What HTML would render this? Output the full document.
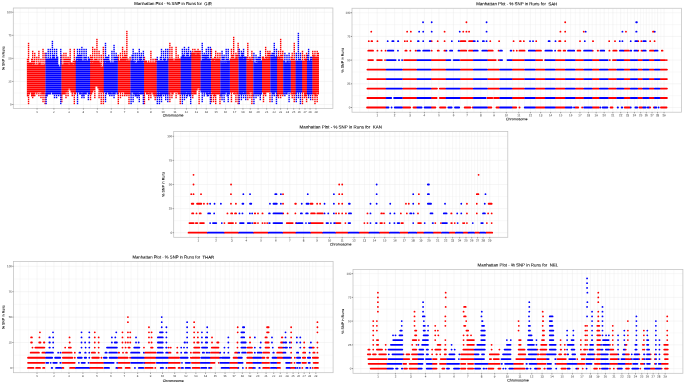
<!DOCTYPE html>
<html><head><meta charset="utf-8"><title>Manhattan Plots</title>
<style>html,body{margin:0;padding:0;background:#fff}svg{display:block}text{font-family:"Liberation Sans",sans-serif}</style></head><body>
<svg width="685" height="385" viewBox="0 0 685 385">
<rect width="685" height="385" fill="#fff"/>
<g id="panel-GIR">
<rect x="13.3" y="8" width="319.6" height="100.4" fill="#fff"/>
<path d="M13.3 92.97H332.9M13.3 69.91H332.9M13.3 46.84H332.9M13.3 23.78H332.9M45.47 8V108.4M61.47 8V108.4M76.22 8V108.4M90.4 8V108.4M104.35 8V108.4M117.97 8V108.4M131.17 8V108.4M144.24 8V108.4M156.89 8V108.4M168.99 8V108.4M180.72 8V108.4M191.42 8V108.4M201.31 8V108.4M211.19 8V108.4M220.86 8V108.4M230.14 8V108.4M238.81 8V108.4M246.61 8V108.4M254.19 8V108.4M262.36 8V108.4M270.41 8V108.4M277.39 8V108.4M284.01 8V108.4M290.56 8V108.4M296.51 8V108.4M302.16 8V108.4M307.53 8V108.4M313.03 8V108.4M28.62 8V108.4M20.2 8V108.4M324.41 8V108.4" stroke="#eeeeee" stroke-width="0.35" fill="none"/>
<path d="M13.3 104.5H332.9M13.3 81.44H332.9M13.3 58.38H332.9M13.3 35.31H332.9M13.3 12.25H332.9M37.05 8V108.4M53.9 8V108.4M69.05 8V108.4M83.4 8V108.4M97.4 8V108.4M111.3 8V108.4M124.64 8V108.4M137.69 8V108.4M150.79 8V108.4M162.99 8V108.4M174.99 8V108.4M186.44 8V108.4M196.39 8V108.4M206.24 8V108.4M216.14 8V108.4M225.59 8V108.4M234.69 8V108.4M242.94 8V108.4M250.29 8V108.4M258.09 8V108.4M266.64 8V108.4M274.19 8V108.4M280.59 8V108.4M287.43 8V108.4M293.68 8V108.4M299.33 8V108.4M304.98 8V108.4M310.08 8V108.4M315.98 8V108.4" stroke="#e8e8e8" stroke-width="0.4" fill="none"/>
<path d="M27.52 96.5V62.5M28.55 94.5V62.5M29.58 94.5V62.5M30.62 92.5V62.5M31.65 96.5V62.5M32.68 96.5V64.5M33.72 96.5V62.5M34.75 94.5V64.5M35.78 92.5V64.5M36.82 94.5V64.5M37.85 92.5V64.5M38.88 92.5V62.5M39.92 92.5V62.5M40.95 92.5V64.5M41.98 94.5V64.5M43.02 94.5V64.5M44.05 94.5V64.5M45.08 92.5V62.5M61.82 96.5V62.5M62.86 94.5V64.5M63.9 94.5V62.5M64.95 94.5V62.5M65.99 92.5V62.5M67.03 92.5V62.5M68.08 90.5V62.5M69.12 88.5V64.5M70.16 90.5V60.5M71.2 92.5V62.5M72.25 94.5V62.5M73.29 92.5V64.5M74.33 94.5V62.5M75.38 94.5V60.5M90.53 94.5V62.5M91.6 94.5V60.5M92.67 92.5V62.5M93.74 90.5V60.5M94.81 90.5V60.5M95.88 86.5V60.5M96.95 86.5V60.5M98.02 88.5V60.5M99.08 90.5V60.5M100.15 92.5V62.5M101.22 92.5V66.5M102.29 92.5V66.5M103.36 94.5V62.5M118.33 94.5V58.5M119.39 92.5V60.5M120.46 94.5V58.5M121.53 92.5V58.5M122.59 92.5V58.5M123.66 92.5V58.5M124.73 94.5V58.5M125.79 94.5V58.5M126.86 94.5V60.5M127.93 94.5V58.5M128.99 94.5V60.5M130.06 94.5V58.5M144.43 96.5V60.5M145.51 92.5V60.5M146.58 94.5V60.5M147.66 94.5V62.5M148.73 92.5V60.5M149.81 94.5V62.5M150.88 94.5V60.5M151.96 92.5V62.5M153.03 94.5V60.5M154.11 96.5V62.5M155.18 94.5V60.5M156.25 96.5V62.5M168.81 94.5V58.5M169.85 96.5V58.5M170.9 92.5V58.5M171.94 94.5V58.5M172.98 94.5V58.5M174.02 92.5V60.5M175.06 92.5V58.5M176.1 92.5V58.5M177.15 92.5V58.5M178.19 94.5V58.5M179.23 94.5V58.5M180.27 94.5V58.5M191.72 94.5V52.5M192.77 92.5V52.5M193.83 94.5V52.5M194.88 94.5V52.5M195.94 94.5V54.5M197 90.5V52.5M198.05 88.5V52.5M199.11 88.5V52.5M200.16 90.5V54.5M211.42 92.5V60.5M212.49 94.5V58.5M213.56 94.5V58.5M214.62 96.5V60.5M215.69 94.5V58.5M216.76 94.5V58.5M217.82 94.5V58.5M218.89 94.5V58.5M219.96 94.5V58.5M230.34 92.5V58.5M231.46 94.5V58.5M232.57 92.5V58.5M233.68 92.5V58.5M234.79 94.5V58.5M235.91 92.5V56.5M237.02 94.5V56.5M238.13 94.5V58.5M246.79 94.5V60.5M247.81 94.5V60.5M248.82 94.5V60.5M249.84 92.5V58.5M250.85 92.5V58.5M251.87 92.5V60.5M252.88 96.5V60.5M262.42 92.5V56.5M263.5 94.5V56.5M264.57 94.5V58.5M265.65 94.5V58.5M266.72 92.5V56.5M267.8 92.5V58.5M268.87 92.5V56.5M269.95 92.5V56.5M277.51 96.5V56.5M278.56 94.5V58.5M279.61 94.5V56.5M280.66 94.5V58.5M281.71 94.5V58.5M282.76 94.5V58.5M291.19 94.5V60.5M292.21 92.5V60.5M293.23 94.5V60.5M294.25 94.5V60.5M295.27 94.5V60.5M302.49 94.5V60.5M303.51 92.5V60.5M304.53 96.5V60.5M305.55 96.5V58.5M306.57 94.5V58.5M312.74 94.5V56.5M313.86 94.5V54.5M314.97 96.5V56.5M316.09 96.5V56.5M317.21 92.5V56.5M318.32 94.5V56.5" stroke="#ff0000" stroke-width="1.3" fill="none"/>
<path d="M27.52 62.25V58.75M28.55 62.25V42.75M28.55 104.25V94.75M31.65 62.25V58.75M32.68 64.25V50.75M32.68 98.25V96.75M33.72 62.25V60.75M34.75 64.25V52.75M34.75 96.25V94.75M36.82 64.25V56.75M38.88 62.25V50.75M38.88 96.25V92.75M40.95 64.25V58.75M40.95 98.25V92.75M43.02 64.25V48.75M43.02 102.25V94.75M45.08 62.25V52.75M45.08 104.25V92.75M61.82 62.25V54.75M61.82 102.25V96.75M63.9 62.25V52.75M64.95 62.25V58.75M65.99 62.25V52.75M65.99 98.25V92.75M67.03 62.25V58.75M68.08 62.25V56.75M68.08 96.25V90.75M69.12 64.25V58.75M70.16 60.25V48.75M72.25 96.25V94.75M73.29 64.25V60.75M74.33 62.25V48.75M74.33 104.25V94.75M90.53 62.25V54.75M90.53 100.25V94.75M91.6 60.25V56.75M92.67 62.25V46.75M94.81 60.25V48.75M94.81 98.25V90.75M95.88 60.25V58.75M96.95 60.25V38.75M99.08 60.25V50.75M99.08 98.25V90.75M101.22 66.25V54.75M101.22 104.25V92.75M103.36 62.25V46.75M103.36 104.25V94.75M118.33 58.25V54.75M118.33 104.25V94.75M120.46 58.25V52.75M120.46 98.25V94.75M122.59 58.25V46.75M122.59 96.25V92.75M123.66 58.25V56.75M124.73 58.25V50.75M124.73 96.25V94.75M125.79 58.25V54.75M126.86 60.25V30.75M126.86 96.25V94.75M128.99 104.25V94.75M130.06 58.25V56.75M144.43 60.25V56.75M144.43 104.25V96.75M148.73 100.25V92.75M150.88 60.25V50.75M150.88 98.25V94.75M153.03 60.25V58.75M155.18 60.25V58.75M155.18 100.25V94.75M156.25 62.25V58.75M169.85 58.25V42.75M169.85 102.25V96.75M171.94 58.25V46.75M171.94 98.25V94.75M176.1 58.25V46.75M176.1 98.25V92.75M178.19 58.25V54.75M180.27 104.25V94.75M192.77 52.25V48.75M192.77 98.25V92.75M194.88 52.25V48.75M195.94 54.25V50.75M197 52.25V50.75M198.05 52.25V48.75M199.11 52.25V50.75M199.11 104.25V88.75M200.16 54.25V50.75M211.42 60.25V48.75M211.42 102.25V92.75M213.56 102.25V94.75M214.62 60.25V56.75M215.69 58.25V50.75M215.69 104.25V94.75M217.82 58.25V52.75M219.96 58.25V52.75M219.96 104.25V94.75M231.46 58.25V48.75M231.46 102.25V94.75M232.57 58.25V54.75M233.68 58.25V36.75M233.68 94.25V92.75M235.91 56.25V52.75M235.91 102.25V92.75M237.02 56.25V54.75M238.13 58.25V42.75M238.13 104.25V94.75M246.79 60.25V56.75M247.81 60.25V42.75M247.81 100.25V94.75M248.82 60.25V58.75M249.84 58.25V56.75M249.84 98.25V92.75M251.87 60.25V50.75M251.87 104.25V92.75M252.88 60.25V56.75M263.5 102.25V94.75M265.65 58.25V46.75M265.65 96.25V94.75M267.8 58.25V50.75M268.87 56.25V52.75M269.95 56.25V50.75M269.95 102.25V92.75M278.56 58.25V50.75M278.56 98.25V94.75M280.66 58.25V38.75M280.66 98.25V94.75M281.71 58.25V54.75M282.76 58.25V50.75M282.76 96.25V94.75M291.19 60.25V56.75M292.21 60.25V52.75M292.21 98.25V92.75M293.23 60.25V58.75M294.25 60.25V42.75M294.25 102.25V94.75M302.49 60.25V50.75M302.49 104.25V94.75M304.53 60.25V54.75M304.53 98.25V96.75M306.57 58.25V52.75M306.57 102.25V94.75M312.74 56.25V50.75M312.74 100.25V94.75M314.97 56.25V50.75M314.97 104.25V96.75M317.21 56.25V50.75M317.21 102.25V92.75M318.32 56.25V52.75" stroke="#ff0000" stroke-width="1.4" stroke-dasharray="1.5 0.5" fill="none"/>
<path d="M46.12 96.5V58.5M47.17 96.5V58.5M48.22 94.5V58.5M49.26 94.5V58.5M50.31 94.5V56.5M51.36 92.5V58.5M52.4 94.5V56.5M53.45 94.5V56.5M54.5 94.5V56.5M55.54 94.5V58.5M56.59 94.5V56.5M57.63 94.5V56.5M58.68 94.5V64.5M59.73 94.5V66.5M60.77 96.5V58.5M76.44 92.5V58.5M77.52 96.5V60.5M78.61 92.5V58.5M79.69 94.5V58.5M80.78 94.5V58.5M81.86 92.5V58.5M82.95 96.5V60.5M84.03 94.5V58.5M85.12 94.5V60.5M86.2 94.5V58.5M87.28 92.5V60.5M88.37 94.5V58.5M89.45 94.5V58.5M104.43 92.5V60.5M105.5 92.5V62.5M106.57 94.5V60.5M107.64 92.5V60.5M108.71 94.5V60.5M109.78 94.5V60.5M110.85 94.5V62.5M111.91 92.5V60.5M112.98 94.5V62.5M114.05 94.5V60.5M115.12 94.5V60.5M116.19 92.5V60.5M117.26 94.5V60.5M131.11 96.5V60.5M132.13 92.5V58.5M133.15 94.5V60.5M134.17 94.5V60.5M135.2 96.5V62.5M136.22 96.5V62.5M137.24 94.5V60.5M138.27 96.5V60.5M139.29 92.5V60.5M140.31 94.5V58.5M141.34 94.5V60.5M142.36 94.5V60.5M143.38 94.5V62.5M157.32 92.5V60.5M158.36 96.5V60.5M159.41 92.5V60.5M160.45 96.5V60.5M161.5 96.5V60.5M162.54 94.5V60.5M163.59 94.5V60.5M164.63 94.5V58.5M165.68 96.5V60.5M166.72 94.5V60.5M167.77 96.5V58.5M181.31 94.5V56.5M182.35 96.5V54.5M183.39 94.5V54.5M184.43 96.5V56.5M185.47 94.5V56.5M186.51 92.5V56.5M187.55 96.5V56.5M188.59 94.5V56.5M189.63 96.5V56.5M190.67 96.5V54.5M201.2 92.5V60.5M202.22 94.5V58.5M203.24 92.5V58.5M204.26 96.5V58.5M205.28 92.5V56.5M206.3 94.5V56.5M207.32 96.5V58.5M208.34 92.5V58.5M209.36 94.5V58.5M210.38 94.5V60.5M221.01 96.5V60.5M222.04 94.5V62.5M223.07 94.5V60.5M224.11 94.5V62.5M225.14 94.5V60.5M226.17 92.5V62.5M227.2 96.5V60.5M228.24 94.5V60.5M229.27 94.5V60.5M239.23 94.5V56.5M240.32 94.5V56.5M241.4 96.5V56.5M242.49 94.5V54.5M243.57 92.5V58.5M244.66 94.5V56.5M245.74 94.5V56.5M253.92 94.5V60.5M254.98 94.5V62.5M256.04 94.5V62.5M257.11 94.5V62.5M258.17 94.5V60.5M259.23 94.5V60.5M260.29 96.5V60.5M261.35 94.5V60.5M271.03 92.5V56.5M272.11 94.5V56.5M273.19 94.5V56.5M274.28 94.5V54.5M275.36 92.5V56.5M276.44 94.5V54.5M283.81 94.5V60.5M284.87 92.5V60.5M285.93 94.5V62.5M286.98 94.5V60.5M288.04 92.5V60.5M289.1 92.5V62.5M290.16 92.5V60.5M296.3 94.5V60.5M297.33 92.5V60.5M298.37 94.5V60.5M299.4 92.5V60.5M300.43 94.5V60.5M301.47 92.5V60.5M307.59 94.5V60.5M308.61 96.5V58.5M309.63 94.5V60.5M310.65 94.5V58.5M311.67 94.5V60.5" stroke="#0000ff" stroke-width="1.3" fill="none"/>
<path d="M46.12 58.25V52.75M46.12 104.25V96.75M48.22 58.25V48.75M50.31 56.25V48.75M52.4 56.25V40.75M53.45 56.25V54.75M54.5 56.25V48.75M54.5 98.25V94.75M56.59 56.25V48.75M56.59 98.25V94.75M58.68 96.25V94.75M60.77 58.25V48.75M60.77 104.25V96.75M76.44 58.25V56.75M77.52 60.25V48.75M77.52 104.25V96.75M78.61 58.25V54.75M79.69 58.25V48.75M80.78 58.25V54.75M81.86 58.25V46.75M81.86 98.25V92.75M84.03 58.25V48.75M84.03 98.25V94.75M85.12 60.25V56.75M86.2 58.25V48.75M88.37 58.25V56.75M88.37 100.25V94.75M104.43 60.25V58.75M105.5 62.25V42.75M105.5 102.25V92.75M106.57 60.25V56.75M107.64 60.25V56.75M108.71 60.25V54.75M109.78 96.25V94.75M111.91 60.25V50.75M111.91 96.25V92.75M114.05 60.25V44.75M114.05 98.25V94.75M115.12 60.25V56.75M116.19 60.25V52.75M117.26 60.25V56.75M131.11 104.25V96.75M132.13 58.25V54.75M133.15 60.25V48.75M133.15 102.25V94.75M135.2 62.25V52.75M137.24 60.25V52.75M137.24 98.25V94.75M139.29 60.25V48.75M139.29 102.25V92.75M140.31 58.25V56.75M141.34 60.25V52.75M143.38 62.25V50.75M143.38 104.25V94.75M157.32 60.25V56.75M157.32 104.25V92.75M159.41 104.25V92.75M160.45 60.25V56.75M161.5 60.25V48.75M161.5 102.25V96.75M163.59 60.25V50.75M163.59 96.25V94.75M165.68 60.25V48.75M165.68 100.25V96.75M167.77 58.25V48.75M167.77 102.25V96.75M182.35 54.25V48.75M182.35 104.25V96.75M184.43 56.25V46.75M184.43 100.25V96.75M186.51 56.25V48.75M186.51 98.25V92.75M187.55 56.25V52.75M188.59 56.25V46.75M190.67 54.25V50.75M190.67 104.25V96.75M202.22 58.25V42.75M202.22 102.25V94.75M203.24 58.25V54.75M204.26 58.25V52.75M205.28 56.25V54.75M206.3 56.25V48.75M207.32 58.25V54.75M208.34 58.25V46.75M208.34 96.25V92.75M210.38 60.25V46.75M210.38 104.25V94.75M222.04 62.25V50.75M222.04 100.25V94.75M223.07 60.25V56.75M224.11 62.25V54.75M224.11 102.25V94.75M226.17 62.25V48.75M227.2 60.25V58.75M228.24 60.25V48.75M228.24 102.25V94.75M239.23 56.25V48.75M239.23 104.25V94.75M241.4 56.25V50.75M241.4 100.25V96.75M242.49 54.25V52.75M243.57 58.25V48.75M243.57 98.25V92.75M245.74 100.25V94.75M253.92 60.25V52.75M253.92 104.25V94.75M256.04 62.25V54.75M256.04 98.25V94.75M257.11 62.25V58.75M258.17 60.25V56.75M258.17 96.25V94.75M259.23 60.25V56.75M260.29 60.25V50.75M260.29 100.25V96.75M271.03 56.25V54.75M272.11 56.25V52.75M272.11 102.25V94.75M273.19 56.25V52.75M274.28 54.25V42.75M274.28 96.25V94.75M276.44 54.25V48.75M276.44 104.25V94.75M284.87 60.25V52.75M284.87 96.25V92.75M286.98 60.25V54.75M289.1 62.25V52.75M289.1 102.25V92.75M296.3 60.25V52.75M296.3 102.25V94.75M298.37 60.25V32.75M298.37 98.25V94.75M299.4 60.25V58.75M300.43 60.25V52.75M300.43 104.25V94.75M307.59 60.25V54.75M308.61 58.25V48.75M308.61 98.25V96.75M310.65 58.25V56.75M310.65 100.25V94.75M311.67 60.25V56.75" stroke="#0000ff" stroke-width="1.4" stroke-dasharray="1.5 0.5" fill="none"/>
<path d="M26.5 30.5H319.38M26.5 32.5H319.38M26.5 34.5H319.38M26.5 36.5H319.38M26.5 38.5H319.38M26.5 40.5H319.38M26.5 42.5H319.38M26.5 44.5H319.38M26.5 46.5H319.38M26.5 48.5H319.38M26.5 50.5H319.38M26.5 52.5H319.38M26.5 54.5H319.38M26.5 56.5H319.38M26.5 58.5H319.38M26.5 60.5H319.38M26.5 62.5H319.38M26.5 64.5H319.38M26.5 66.5H319.38M26.5 68.5H319.38M26.5 70.5H319.38M26.5 72.5H319.38M26.5 74.5H319.38M26.5 76.5H319.38M26.5 78.5H319.38M26.5 80.5H319.38M26.5 82.5H319.38M26.5 84.5H319.38M26.5 86.5H319.38M26.5 88.5H319.38M26.5 90.5H319.38M26.5 92.5H319.38M26.5 94.5H319.38M26.5 96.5H319.38M26.5 98.5H319.38M26.5 100.5H319.38M26.5 102.5H319.38M26.5 104.5H319.38" stroke="#fff" stroke-opacity="0.27" stroke-width="1" fill="none"/>
<rect x="13.3" y="8" width="319.6" height="100.4" fill="none" stroke="#c2c2c2" stroke-width="0.75"/>
<path d="M12.2 104.5H13.3M12.2 81.44H13.3M12.2 58.38H13.3M12.2 35.31H13.3M12.2 12.25H13.3M37.05 108.4V109.5M53.9 108.4V109.5M69.05 108.4V109.5M83.4 108.4V109.5M97.4 108.4V109.5M111.3 108.4V109.5M124.64 108.4V109.5M137.69 108.4V109.5M150.79 108.4V109.5M162.99 108.4V109.5M174.99 108.4V109.5M186.44 108.4V109.5M196.39 108.4V109.5M206.24 108.4V109.5M216.14 108.4V109.5M225.59 108.4V109.5M234.69 108.4V109.5M242.94 108.4V109.5M250.29 108.4V109.5M258.09 108.4V109.5M266.64 108.4V109.5M274.19 108.4V109.5M280.59 108.4V109.5M287.43 108.4V109.5M293.68 108.4V109.5M299.33 108.4V109.5M304.98 108.4V109.5M310.08 108.4V109.5M315.98 108.4V109.5" stroke="#333" stroke-width="0.5" fill="none"/>
<g font-size="2.84" stroke="#4d4d4d" stroke-width="0.04" fill="#4d4d4d"><text transform="translate(11.7 105.52) rotate(0.05)" text-anchor="end">0</text><text transform="translate(11.7 82.46) rotate(0.05)" text-anchor="end">25</text><text transform="translate(11.7 59.4) rotate(0.05)" text-anchor="end">50</text><text transform="translate(11.7 36.33) rotate(0.05)" text-anchor="end">75</text><text transform="translate(11.7 13.27) rotate(0.05)" text-anchor="end">100</text><text transform="translate(37.05 112.9) rotate(0.05)" text-anchor="middle">1</text><text transform="translate(53.9 112.9) rotate(0.05)" text-anchor="middle">2</text><text transform="translate(69.05 112.9) rotate(0.05)" text-anchor="middle">3</text><text transform="translate(83.4 112.9) rotate(0.05)" text-anchor="middle">4</text><text transform="translate(97.4 112.9) rotate(0.05)" text-anchor="middle">5</text><text transform="translate(111.3 112.9) rotate(0.05)" text-anchor="middle">6</text><text transform="translate(124.64 112.9) rotate(0.05)" text-anchor="middle">7</text><text transform="translate(137.69 112.9) rotate(0.05)" text-anchor="middle">8</text><text transform="translate(150.79 112.9) rotate(0.05)" text-anchor="middle">9</text><text transform="translate(162.99 112.9) rotate(0.05)" text-anchor="middle">10</text><text transform="translate(174.99 112.9) rotate(0.05)" text-anchor="middle">11</text><text transform="translate(186.44 112.9) rotate(0.05)" text-anchor="middle">12</text><text transform="translate(196.39 112.9) rotate(0.05)" text-anchor="middle">13</text><text transform="translate(206.24 112.9) rotate(0.05)" text-anchor="middle">14</text><text transform="translate(216.14 112.9) rotate(0.05)" text-anchor="middle">15</text><text transform="translate(225.59 112.9) rotate(0.05)" text-anchor="middle">16</text><text transform="translate(234.69 112.9) rotate(0.05)" text-anchor="middle">17</text><text transform="translate(242.94 112.9) rotate(0.05)" text-anchor="middle">18</text><text transform="translate(250.29 112.9) rotate(0.05)" text-anchor="middle">19</text><text transform="translate(258.09 112.9) rotate(0.05)" text-anchor="middle">20</text><text transform="translate(266.64 112.9) rotate(0.05)" text-anchor="middle">21</text><text transform="translate(274.19 112.9) rotate(0.05)" text-anchor="middle">22</text><text transform="translate(280.59 112.9) rotate(0.05)" text-anchor="middle">23</text><text transform="translate(287.43 112.9) rotate(0.05)" text-anchor="middle">24</text><text transform="translate(293.68 112.9) rotate(0.05)" text-anchor="middle">25</text><text transform="translate(299.33 112.9) rotate(0.05)" text-anchor="middle">26</text><text transform="translate(304.98 112.9) rotate(0.05)" text-anchor="middle">27</text><text transform="translate(310.08 112.9) rotate(0.05)" text-anchor="middle">28</text><text transform="translate(315.98 112.9) rotate(0.05)" text-anchor="middle">29</text></g>
<text transform="translate(173.1 5.1) rotate(0.05)" text-anchor="middle" font-size="4.25" fill="#000" stroke="#000" stroke-width="0.06" xml:space="preserve">Manhattan Plot - % SNP in Runs for  GIR</text>
<text transform="translate(173.1 116.6) rotate(0.05)" text-anchor="middle" font-size="3.47" fill="#000" stroke="#000" stroke-width="0.07">Chromosome</text>
<text transform="translate(4.6 58.2) rotate(-89.95)" text-anchor="middle" font-size="3.47" fill="#000" stroke="#000" stroke-width="0.07">% SNP in Runs</text>
</g>
<g id="panel-SAH">
<rect x="352" y="8.25" width="329.4" height="103.95" fill="#fff"/>
<path d="M352 95.66H681.4M352 71.97H681.4M352 48.28H681.4M352 24.59H681.4M385.92 8.25V112.2M402.35 8.25V112.2M417.22 8.25V112.2M431.67 8.25V112.2M446.2 8.25V112.2M460.27 8.25V112.2M473.92 8.25V112.2M487.35 8.25V112.2M500.12 8.25V112.2M512.55 8.25V112.2M524.6 8.25V112.2M535.52 8.25V112.2M545.62 8.25V112.2M555.62 8.25V112.2M565.65 8.25V112.2M575.3 8.25V112.2M584.19 8.25V112.2M592.29 8.25V112.2M600.16 8.25V112.2M608.51 8.25V112.2M616.77 8.25V112.2M624.1 8.25V112.2M630.95 8.25V112.2M637.52 8.25V112.2M643.47 8.25V112.2M649.17 8.25V112.2M654.8 8.25V112.2M660.8 8.25V112.2M368.47 8.25V112.2M359.75 8.25V112.2M672.77 8.25V112.2" stroke="#eeeeee" stroke-width="0.35" fill="none"/>
<path d="M352 107.5H681.4M352 83.81H681.4M352 60.12H681.4M352 36.44H681.4M352 12.75H681.4M377.2 8.25V112.2M394.65 8.25V112.2M410.05 8.25V112.2M424.4 8.25V112.2M438.95 8.25V112.2M453.45 8.25V112.2M467.1 8.25V112.2M480.75 8.25V112.2M493.95 8.25V112.2M506.3 8.25V112.2M518.8 8.25V112.2M530.4 8.25V112.2M540.65 8.25V112.2M550.6 8.25V112.2M560.65 8.25V112.2M570.65 8.25V112.2M579.95 8.25V112.2M588.42 8.25V112.2M596.15 8.25V112.2M604.17 8.25V112.2M612.85 8.25V112.2M620.7 8.25V112.2M627.5 8.25V112.2M634.4 8.25V112.2M640.65 8.25V112.2M646.3 8.25V112.2M652.05 8.25V112.2M657.55 8.25V112.2M664.05 8.25V112.2" stroke="#e8e8e8" stroke-width="0.4" fill="none"/>
<path d="M466.43 22.22h0M565.19 22.22h0M371.27 31.7h0M407.14 31.7h0M410.85 31.7h0M444.59 31.7h0M463.25 31.7h0M466.43 31.7h0M469.08 31.7h0M560.42 31.7h0M565.19 31.7h0M625.95 31.7h0M653.01 31.7h0.64M368.8 41.17h0M371.47 41.17h0.66M377.46 41.17h0M404.84 41.17h0M407.14 41.17h0M410.85 41.17h0M431.65 41.17h0M437.7 41.17h0M444.59 41.17h0M460.8 41.17h4.55M469.1 41.17h3.54M490.28 41.17h0M499.12 41.17h0M513.6 41.17h0M519.99 41.17h0.66M523.85 41.17h0M536.22 41.17h0M559.21 41.17h1.19M565.19 41.17h0M580.02 41.17h0M592.94 41.17h0.13M609.17 41.17h0M615 41.17h0M638.25 41.17h0M641.33 41.17h0M650.16 41.17h0M368.29 50.65h4.73M377.46 50.65h0M381.52 50.65h0M385.58 50.65h0M405.39 50.65h1.19M410.32 50.65h0M415.64 50.65h0.31M431.7 50.65h0M437.73 50.65h1.02M444.44 50.65h0.91M460.8 50.65h5.43M469.1 50.65h3.54M487.95 50.65h4.78M498.59 50.65h0M513.6 50.65h0M516.78 50.65h0M519.46 50.65h5.08M535.85 50.65h5.12M558.33 50.65h2.08M563.63 50.65h1.55M577.57 50.65h2.78M592.7 50.65h0.02M597.71 50.65h0.31M609.37 50.65h0.13M613.26 50.65h3.31M624.45 50.65h4.49M638.25 50.65h0.05M641.52 50.65h0.62M650 50.65h3.64M661.84 50.65h0.66M368.29 60.12h4.73M377.12 60.12h4.73M385.05 60.12h0M404.16 60.12h12.09M431.65 60.12h13.7M460.8 60.12h11.85M487.95 60.12h7.79M498.61 60.12h0.44M512.65 60.12h11.4M535.85 60.12h6.35M545.07 60.12h0M555.75 60.12h8.9M575.75 60.12h7.5M592.7 60.12h6M609.72 60.12h0.13M612.9 60.12h3.14M624.45 60.12h5.2M638.25 60.12h3.9M649.55 60.12h4.1M660.55 60.12h4.61M666.77 60.12h0M367.41 69.6h18.04M402.95 69.6h13.3M431.65 69.6h13.7M460.65 69.6h12M487.95 69.6h11.1M512.65 69.6h11.4M535.85 69.6h8.7M555.75 69.6h8.9M575.75 69.6h7.5M592.7 69.6h6M608.75 69.6h7.3M624.45 69.6h5.2M638.25 69.6h3.9M649.55 69.6h4.1M660.55 69.6h6.37M367.41 79.08h18.04M402.95 79.08h13.3M431.65 79.08h13.7M460.65 79.08h12M487.95 79.08h11.1M512.65 79.08h11.4M535.85 79.08h8.7M555.75 79.08h8.9M575.75 79.08h7.5M592.7 79.08h6M608.75 79.08h7.3M624.45 79.08h5.2M638.25 79.08h3.9M649.55 79.08h4.1M660.55 79.08h6.37M367.41 88.55h18.04M402.95 88.55h13.3M431.65 88.55h5.32M439.85 88.55h5.5M460.65 88.55h12M487.95 88.55h11.1M512.65 88.55h11.4M535.85 88.55h8.7M555.75 88.55h8.9M575.75 88.55h7.5M592.7 88.55h6M608.75 88.55h7.3M624.45 88.55h5.2M638.25 88.55h3.9M649.55 88.55h4.1M660.55 88.55h6.37M367.41 98.03h18.04M402.95 98.03h13.3M431.65 98.03h4.97M439.85 98.03h5.5M460.65 98.03h12M487.48 98.03h4.9M494.19 98.03h4.86M512.65 98.03h11.4M535.85 98.03h8.7M555.75 98.03h8.9M575.75 98.03h7.5M592.7 98.03h6M608.75 98.03h7.3M624.45 98.03h5.2M638.25 98.03h3.9M649.55 98.03h4.1M660.55 98.03h6.37M367.05 107.5h18.39M402.95 107.5h7.17M413.52 107.5h2.73M431.65 107.5h3.73M440.02 107.5h5.43M464.69 107.5h5.61M472.64 107.5h0.01M487.95 107.5h3.37M496.49 107.5h2.56M512.65 107.5h3.58M519.46 107.5h0.13M535.85 107.5h8.7M555.75 107.5h8.9M575.62 107.5h2.61M582.14 107.5h0M592.7 107.5h6.2M610.61 107.5h1.9M624.74 107.5h4.91M639.4 107.5h2.74M649.55 107.5h0.59M653.89 107.5h0M660.96 107.5h5.61M583.73 31.7h0M654.58 41.17h0" stroke="#ff0000" stroke-width="1.84" stroke-linecap="round" fill="none"/>
<path d="M423.04 22.22h0M486.57 22.22h0M636.22 22.22h0.66M419.15 31.7h0M423.22 31.7h0M459.72 31.7h0M486.57 31.7h0M622.42 31.7h0M636.22 31.7h0.31M654.75 31.7h0M387.7 41.17h0M392.32 41.17h1.19M397.97 41.17h0.31M417.94 41.17h0.66M423.22 41.17h0M429.77 41.17h0.77M451.84 41.17h0M458.83 41.17h0M473.75 41.17h0M474.73 41.17h0M477.74 41.17h0M482.88 41.17h1.02M486.57 41.17h0M530.04 41.17h0M533.04 41.17h0M548.61 41.17h1.02M584.79 41.17h0M619.77 41.17h0M622.42 41.17h0M630.72 41.17h0M635.34 41.17h1.81M643.29 41.17h2.43M387.9 50.65h5.43M397.95 50.65h0M417.76 50.65h2.08M423.24 50.65h6.32M446.45 50.65h0M450.09 50.65h2.08M458.5 50.65h0.66M473.75 50.65h3.97M482.35 50.65h4.49M500.02 50.65h1.9M510.62 50.65h0.66M528.82 50.65h5.93M545.43 50.65h6.49M555.12 50.65h0M568.04 50.65h3.31M572.62 50.65h1.55M584.1 50.65h7.49M600.53 50.65h3.67M619.97 50.65h3.38M630.57 50.65h0.66M634.46 50.65h2.69M643.25 50.65h2.47M654.75 50.65h2.81M386.84 60.12h8.79M398.86 60.12h0.31M402.04 60.12h0.13M417.35 60.12h13.2M446.45 60.12h0M447.44 60.12h2.96M453.63 60.12h5.54M473.75 60.12h13.1M500.15 60.12h1.95M507.44 60.12h4.1M525.15 60.12h9.6M545.65 60.12h9M565.75 60.12h5.61M572 60.12h2.65M584.35 60.12h7.25M599.8 60.12h7.93M617.15 60.12h6.2M630.75 60.12h6.4M643.25 60.12h5.2M654.75 60.12h4.7M386.55 69.6h15.3M417.35 69.6h13.2M446.45 69.6h13.1M473.75 69.6h13.1M500.15 69.6h11.4M525.15 69.6h9.6M545.65 69.6h9M565.75 69.6h5.61M572 69.6h2.65M584.35 69.6h7.25M599.8 69.6h7.85M617.15 69.6h6.2M630.75 69.6h6.4M643.25 69.6h5.2M654.75 69.6h4.7M386.55 79.08h15.3M417.35 79.08h13.2M446.45 79.08h13.1M473.75 79.08h13.1M500.15 79.08h11.4M525.15 79.08h9.6M545.65 79.08h9M565.75 79.08h5.61M572 79.08h2.65M584.35 79.08h7.25M599.8 79.08h7.85M617.15 79.08h6.2M630.75 79.08h6.4M643.25 79.08h5.2M654.75 79.08h4.7M386.55 88.55h15.3M417.35 88.55h13.2M446.45 88.55h13.1M473.75 88.55h13.1M500.15 88.55h11.4M525.15 88.55h9.6M545.65 88.55h9M565.75 88.55h5.61M572 88.55h2.65M584.35 88.55h7.25M599.8 88.55h7.85M617.15 88.55h6.2M630.75 88.55h6.4M643.25 88.55h5.2M654.75 88.55h4.7M386.55 98.03h4.66M394.09 98.03h7.76M417.35 98.03h13.2M446.45 98.03h13.1M473.75 98.03h11.92M500.15 98.03h11.4M525.15 98.03h9.6M545.65 98.03h9M565.75 98.03h5.61M572 98.03h2.65M584.35 98.03h7.25M599.8 98.03h7.85M617.15 98.03h6.2M630.75 98.03h6.4M643.25 98.03h5.2M654.75 98.03h4.7M386.55 107.5h2.01M391.59 107.5h0M394.79 107.5h7.06M417.35 107.5h4.25M424.65 107.5h5.9M448.33 107.5h3.31M455 107.5h4.17M473.75 107.5h13.1M500.15 107.5h11.4M524.76 107.5h9.99M545.65 107.5h9M565.75 107.5h5.61M571.76 107.5h0M574.03 107.5h0.13M584.1 107.5h7.49M600.34 107.5h0M602.65 107.5h4.73M617.67 107.5h0.31M621.74 107.5h0.49M630.75 107.5h0M635.34 107.5h1.9M643.25 107.5h2.47M647.71 107.5h0.74M654.75 107.5h1.57M658.64 107.5h0M431.7 22.22h0M431.7 31.7h0M555.48 41.17h0M585.67 31.7h0" stroke="#0000ff" stroke-width="1.84" stroke-linecap="round" fill="none"/>
<rect x="352" y="8.25" width="329.4" height="103.95" fill="none" stroke="#c2c2c2" stroke-width="0.75"/>
<path d="M350.9 107.5H352M350.9 83.81H352M350.9 60.12H352M350.9 36.44H352M350.9 12.75H352M377.2 112.2V113.3M394.65 112.2V113.3M410.05 112.2V113.3M424.4 112.2V113.3M438.95 112.2V113.3M453.45 112.2V113.3M467.1 112.2V113.3M480.75 112.2V113.3M493.95 112.2V113.3M506.3 112.2V113.3M518.8 112.2V113.3M530.4 112.2V113.3M540.65 112.2V113.3M550.6 112.2V113.3M560.65 112.2V113.3M570.65 112.2V113.3M579.95 112.2V113.3M588.42 112.2V113.3M596.15 112.2V113.3M604.17 112.2V113.3M612.85 112.2V113.3M620.7 112.2V113.3M627.5 112.2V113.3M634.4 112.2V113.3M640.65 112.2V113.3M646.3 112.2V113.3M652.05 112.2V113.3M657.55 112.2V113.3M664.05 112.2V113.3" stroke="#333" stroke-width="0.5" fill="none"/>
<g font-size="2.93" stroke="#4d4d4d" stroke-width="0.04" fill="#4d4d4d"><text transform="translate(350.4 108.52) rotate(0.05)" text-anchor="end">0</text><text transform="translate(350.4 84.83) rotate(0.05)" text-anchor="end">25</text><text transform="translate(350.4 61.15) rotate(0.05)" text-anchor="end">50</text><text transform="translate(350.4 37.46) rotate(0.05)" text-anchor="end">75</text><text transform="translate(350.4 13.77) rotate(0.05)" text-anchor="end">100</text><text transform="translate(377.2 116.2) rotate(0.05)" text-anchor="middle">1</text><text transform="translate(394.65 116.2) rotate(0.05)" text-anchor="middle">2</text><text transform="translate(410.05 116.2) rotate(0.05)" text-anchor="middle">3</text><text transform="translate(424.4 116.2) rotate(0.05)" text-anchor="middle">4</text><text transform="translate(438.95 116.2) rotate(0.05)" text-anchor="middle">5</text><text transform="translate(453.45 116.2) rotate(0.05)" text-anchor="middle">6</text><text transform="translate(467.1 116.2) rotate(0.05)" text-anchor="middle">7</text><text transform="translate(480.75 116.2) rotate(0.05)" text-anchor="middle">8</text><text transform="translate(493.95 116.2) rotate(0.05)" text-anchor="middle">9</text><text transform="translate(506.3 116.2) rotate(0.05)" text-anchor="middle">10</text><text transform="translate(518.8 116.2) rotate(0.05)" text-anchor="middle">11</text><text transform="translate(530.4 116.2) rotate(0.05)" text-anchor="middle">12</text><text transform="translate(540.65 116.2) rotate(0.05)" text-anchor="middle">13</text><text transform="translate(550.6 116.2) rotate(0.05)" text-anchor="middle">14</text><text transform="translate(560.65 116.2) rotate(0.05)" text-anchor="middle">15</text><text transform="translate(570.65 116.2) rotate(0.05)" text-anchor="middle">16</text><text transform="translate(579.95 116.2) rotate(0.05)" text-anchor="middle">17</text><text transform="translate(588.42 116.2) rotate(0.05)" text-anchor="middle">18</text><text transform="translate(596.15 116.2) rotate(0.05)" text-anchor="middle">19</text><text transform="translate(604.17 116.2) rotate(0.05)" text-anchor="middle">20</text><text transform="translate(612.85 116.2) rotate(0.05)" text-anchor="middle">21</text><text transform="translate(620.7 116.2) rotate(0.05)" text-anchor="middle">22</text><text transform="translate(627.5 116.2) rotate(0.05)" text-anchor="middle">23</text><text transform="translate(634.4 116.2) rotate(0.05)" text-anchor="middle">24</text><text transform="translate(640.65 116.2) rotate(0.05)" text-anchor="middle">25</text><text transform="translate(646.3 116.2) rotate(0.05)" text-anchor="middle">26</text><text transform="translate(652.05 116.2) rotate(0.05)" text-anchor="middle">27</text><text transform="translate(657.55 116.2) rotate(0.05)" text-anchor="middle">28</text><text transform="translate(664.05 116.2) rotate(0.05)" text-anchor="middle">29</text></g>
<text transform="translate(516.7 5.35) rotate(0.05)" text-anchor="middle" font-size="4.38" fill="#000" stroke="#000" stroke-width="0.06" xml:space="preserve">Manhattan Plot - % SNP in Runs for  SAH</text>
<text transform="translate(516.7 120.3) rotate(0.05)" text-anchor="middle" font-size="3.57" fill="#000" stroke="#000" stroke-width="0.07">Chromosome</text>
<text transform="translate(343.7 60.23) rotate(-89.95)" text-anchor="middle" font-size="3.57" fill="#000" stroke="#000" stroke-width="0.07">% SNP in Runs</text>
</g>
<g id="panel-KAN">
<rect x="173.7" y="131.4" width="334.1" height="105.9" fill="#fff"/>
<path d="M173.7 220.65H507.8M173.7 196.55H507.8M173.7 172.45H507.8M173.7 148.35H507.8M207.31 131.4V237.3M223.99 131.4V237.3M239.1 131.4V237.3M253.77 131.4V237.3M268.52 131.4V237.3M282.81 131.4V237.3M296.67 131.4V237.3M310.31 131.4V237.3M323.28 131.4V237.3M335.9 131.4V237.3M348.13 131.4V237.3M359.23 131.4V237.3M369.48 131.4V237.3M379.64 131.4V237.3M389.82 131.4V237.3M399.62 131.4V237.3M408.64 131.4V237.3M416.87 131.4V237.3M424.86 131.4V237.3M433.34 131.4V237.3M441.73 131.4V237.3M449.17 131.4V237.3M456.13 131.4V237.3M462.8 131.4V237.3M468.85 131.4V237.3M474.63 131.4V237.3M480.35 131.4V237.3M486.44 131.4V237.3M189.59 131.4V237.3M180.72 131.4V237.3M498.6 131.4V237.3" stroke="#eeeeee" stroke-width="0.35" fill="none"/>
<path d="M173.7 232.7H507.8M173.7 208.6H507.8M173.7 184.5H507.8M173.7 160.4H507.8M173.7 136.3H507.8M198.45 131.4V237.3M216.17 131.4V237.3M231.81 131.4V237.3M246.38 131.4V237.3M261.16 131.4V237.3M275.88 131.4V237.3M289.74 131.4V237.3M303.6 131.4V237.3M317.01 131.4V237.3M329.55 131.4V237.3M342.24 131.4V237.3M354.02 131.4V237.3M364.43 131.4V237.3M374.53 131.4V237.3M384.74 131.4V237.3M394.89 131.4V237.3M404.34 131.4V237.3M412.94 131.4V237.3M420.79 131.4V237.3M428.94 131.4V237.3M437.75 131.4V237.3M445.72 131.4V237.3M452.62 131.4V237.3M459.63 131.4V237.3M465.98 131.4V237.3M471.71 131.4V237.3M477.55 131.4V237.3M483.14 131.4V237.3M489.74 131.4V237.3" stroke="#e8e8e8" stroke-width="0.4" fill="none"/>
<path d="M193.52 174.86h0M478.59 174.86h0M193.52 184.5h0M231.06 184.5h0M339.2 184.5h0M342.21 184.5h0M191.22 194.14h0M193.52 194.14h0M201.02 194.14h0M230.97 194.14h0M283.02 194.14h0M339.2 194.14h0M342.21 194.14h0M418.87 194.14h0M476.84 194.14h1.55M191.77 203.78h1.55M197.07 203.78h4.2M203.94 203.78h0M230.97 203.78h0M235.92 203.78h0M283.02 203.78h0M295.23 203.78h0.66M310.61 203.78h1.9M317.12 203.78h0M320.12 203.78h0M338.85 203.78h0M342.21 203.78h0M405.97 203.78h0M418.87 203.78h0M466.93 203.78h0M476.82 203.78h0M488.68 203.78h2.96M192.12 213.42h1.19M196.52 213.42h0M199.72 213.42h1.02M227.44 213.42h0M231.17 213.42h1.02M235.06 213.42h1.02M254.85 213.42h0.31M258 213.42h0M262.44 213.42h0.13M283.2 213.42h0M287.61 213.42h0M295.39 213.42h0M311.14 213.42h3.67M317.32 213.42h5.43M336.11 213.42h0M338.85 213.42h0M342.21 213.42h0M345.92 213.42h0M367.47 213.42h0M381.28 213.42h0.72M383.89 213.42h0M400.85 213.42h0M406.86 213.42h0M417.99 213.42h0M451.22 213.42h0.31M466.93 213.42h0M476.82 213.42h0M488.13 213.42h0M491.66 213.42h0M189.47 223.06h4.2M195.83 223.06h1.55M200.07 223.06h3.84M224.43 223.06h0M228.52 223.06h4.55M235.83 223.06h0M254.14 223.06h1.37M258 223.06h0M262.44 223.06h0.13M264.89 223.06h0M267.19 223.06h0M286.75 223.06h5.96M295.94 223.06h0M310.92 223.06h11.84M336 223.06h4.42M345.39 223.06h0M364.38 223.06h0M367.47 223.06h0M380.39 223.06h1.61M384.42 223.06h0M401.4 223.06h1.55M418.18 223.06h2.78M435.3 223.06h0M440.95 223.06h0M451.22 223.06h0.66M454.73 223.06h0M463.04 223.06h0M464.28 223.06h0M466.93 223.06h0M486.89 223.06h0M491.66 223.06h0M188.59 232.7h18.25M224.6 232.7h13.52M253.74 232.7h13.92M283.19 232.7h12.2M310.92 232.7h11.28M336 232.7h11.59M359.56 232.7h8.85M379.76 232.7h9.05M400.07 232.7h7.63M417.29 232.7h6.11M433.58 232.7h7.43M449.53 232.7h5.29M463.54 232.7h3.97M475.02 232.7h4.18M486.19 232.7h5.98M207.47 203.78h0M408.8 203.78h0" stroke="#ff0000" stroke-width="1.84" stroke-linecap="round" fill="none"/>
<path d="M376.66 184.5h0M427.9 184.5h1.02M243.34 194.14h0M250.05 194.14h0M275.27 194.14h1.19M280.9 194.14h0M307.76 194.14h0M333.9 194.14h0M376.66 194.14h0M413.22 194.14h0M427.9 194.14h1.02M485.48 194.14h0M210.12 203.78h0M214.54 203.78h0M220.9 203.78h0M242.48 203.78h0.84M250.07 203.78h1.19M269.95 203.78h0M273.5 203.78h3.31M280.9 203.78h0M301.75 203.78h0M306.54 203.78h2.08M324.54 203.78h0M333.9 203.78h0M348.94 203.78h0.84M370.48 203.78h0M376.66 203.78h0M390.25 203.78h0M413.22 203.78h0M427.9 203.78h3.14M445.02 203.78h0M461.27 203.78h0M484.77 203.78h0M208.2 213.42h1.9M214.19 213.42h0M239.45 213.42h0M242.46 213.42h0M249.88 213.42h0M252.17 213.42h0M269.09 213.42h0.66M273.5 213.42h8.61M300.89 213.42h1.02M306.19 213.42h1.55M324.54 213.42h0M328.25 213.42h0M333.9 213.42h0M348.94 213.42h2.08M370.48 213.42h0M390.25 213.42h0M394.49 213.42h0M410.23 213.42h1.02M413.57 213.42h0M430.55 213.42h1.9M443.8 213.42h2.78M457.21 213.42h0M461.27 213.42h0M483.03 213.42h1.9M210.12 223.06h0M212.97 223.06h3.31M221.78 223.06h0M240 223.06h3.67M247.78 223.06h2.43M252.17 223.06h0M269.09 223.06h0.66M273.5 223.06h8.61M296.5 223.06h0M297.88 223.06h4.55M305.99 223.06h0M308.82 223.06h0M310.07 223.06h0M326.51 223.06h1.55M330.9 223.06h0M334.1 223.06h0.79M348.59 223.06h1.55M370.48 223.06h0M375.98 223.06h0.66M389.72 223.06h0M394.33 223.06h0.13M397.69 223.06h1.55M413.22 223.06h0M424.7 223.06h0M432.67 223.06h0.31M442.39 223.06h4.55M457.65 223.06h0M472.76 223.06h0M481.26 223.06h1.55M207.95 232.7h15.55M239.22 232.7h13.42M268.77 232.7h13.32M296.5 232.7h13.32M323.3 232.7h11.59M348.69 232.7h9.76M369.51 232.7h9.15M389.92 232.7h9.05M408.81 232.7h7.38M424.5 232.7h7.98M442.11 232.7h6.31M455.92 232.7h6.51M468.62 232.7h5.29M480.3 232.7h4.79" stroke="#0000ff" stroke-width="1.84" stroke-linecap="round" fill="none"/>
<rect x="173.7" y="131.4" width="334.1" height="105.9" fill="none" stroke="#c2c2c2" stroke-width="0.75"/>
<path d="M172.6 232.7H173.7M172.6 208.6H173.7M172.6 184.5H173.7M172.6 160.4H173.7M172.6 136.3H173.7M198.45 237.3V238.4M216.17 237.3V238.4M231.81 237.3V238.4M246.38 237.3V238.4M261.16 237.3V238.4M275.88 237.3V238.4M289.74 237.3V238.4M303.6 237.3V238.4M317.01 237.3V238.4M329.55 237.3V238.4M342.24 237.3V238.4M354.02 237.3V238.4M364.43 237.3V238.4M374.53 237.3V238.4M384.74 237.3V238.4M394.89 237.3V238.4M404.34 237.3V238.4M412.94 237.3V238.4M420.79 237.3V238.4M428.94 237.3V238.4M437.75 237.3V238.4M445.72 237.3V238.4M452.62 237.3V238.4M459.63 237.3V238.4M465.98 237.3V238.4M471.71 237.3V238.4M477.55 237.3V238.4M483.14 237.3V238.4M489.74 237.3V238.4" stroke="#333" stroke-width="0.5" fill="none"/>
<g font-size="2.97" stroke="#4d4d4d" stroke-width="0.04" fill="#4d4d4d"><text transform="translate(172.1 233.72) rotate(0.05)" text-anchor="end">0</text><text transform="translate(172.1 209.62) rotate(0.05)" text-anchor="end">25</text><text transform="translate(172.1 185.52) rotate(0.05)" text-anchor="end">50</text><text transform="translate(172.1 161.42) rotate(0.05)" text-anchor="end">75</text><text transform="translate(172.1 137.32) rotate(0.05)" text-anchor="end">100</text><text transform="translate(198.45 241.5) rotate(0.05)" text-anchor="middle">1</text><text transform="translate(216.17 241.5) rotate(0.05)" text-anchor="middle">2</text><text transform="translate(231.81 241.5) rotate(0.05)" text-anchor="middle">3</text><text transform="translate(246.38 241.5) rotate(0.05)" text-anchor="middle">4</text><text transform="translate(261.16 241.5) rotate(0.05)" text-anchor="middle">5</text><text transform="translate(275.88 241.5) rotate(0.05)" text-anchor="middle">6</text><text transform="translate(289.74 241.5) rotate(0.05)" text-anchor="middle">7</text><text transform="translate(303.6 241.5) rotate(0.05)" text-anchor="middle">8</text><text transform="translate(317.01 241.5) rotate(0.05)" text-anchor="middle">9</text><text transform="translate(329.55 241.5) rotate(0.05)" text-anchor="middle">10</text><text transform="translate(342.24 241.5) rotate(0.05)" text-anchor="middle">11</text><text transform="translate(354.02 241.5) rotate(0.05)" text-anchor="middle">12</text><text transform="translate(364.43 241.5) rotate(0.05)" text-anchor="middle">13</text><text transform="translate(374.53 241.5) rotate(0.05)" text-anchor="middle">14</text><text transform="translate(384.74 241.5) rotate(0.05)" text-anchor="middle">15</text><text transform="translate(394.89 241.5) rotate(0.05)" text-anchor="middle">16</text><text transform="translate(404.34 241.5) rotate(0.05)" text-anchor="middle">17</text><text transform="translate(412.94 241.5) rotate(0.05)" text-anchor="middle">18</text><text transform="translate(420.79 241.5) rotate(0.05)" text-anchor="middle">19</text><text transform="translate(428.94 241.5) rotate(0.05)" text-anchor="middle">20</text><text transform="translate(437.75 241.5) rotate(0.05)" text-anchor="middle">21</text><text transform="translate(445.72 241.5) rotate(0.05)" text-anchor="middle">22</text><text transform="translate(452.62 241.5) rotate(0.05)" text-anchor="middle">23</text><text transform="translate(459.63 241.5) rotate(0.05)" text-anchor="middle">24</text><text transform="translate(465.98 241.5) rotate(0.05)" text-anchor="middle">25</text><text transform="translate(471.71 241.5) rotate(0.05)" text-anchor="middle">26</text><text transform="translate(477.55 241.5) rotate(0.05)" text-anchor="middle">27</text><text transform="translate(483.14 241.5) rotate(0.05)" text-anchor="middle">28</text><text transform="translate(489.74 241.5) rotate(0.05)" text-anchor="middle">29</text></g>
<text transform="translate(340.75 128.5) rotate(0.05)" text-anchor="middle" font-size="4.44" fill="#000" stroke="#000" stroke-width="0.06" xml:space="preserve">Manhattan Plot - % SNP in Runs for  KAN</text>
<text transform="translate(340.75 245.6) rotate(0.05)" text-anchor="middle" font-size="3.62" fill="#000" stroke="#000" stroke-width="0.07">Chromosome</text>
<text transform="translate(164.5 184.35) rotate(-89.95)" text-anchor="middle" font-size="3.62" fill="#000" stroke="#000" stroke-width="0.07">% SNP in Runs</text>
</g>
<g id="panel-THAR">
<rect x="13.4" y="261.5" width="319.7" height="111.2" fill="#fff"/>
<path d="M13.4 355.2H333.1M13.4 329.8H333.1M13.4 304.4H333.1M13.4 279H333.1M45.51 261.5V372.7M61.47 261.5V372.7M75.93 261.5V372.7M89.97 261.5V372.7M104.09 261.5V372.7M117.77 261.5V372.7M131.04 261.5V372.7M144.09 261.5V372.7M156.5 261.5V372.7M168.58 261.5V372.7M180.29 261.5V372.7M190.91 261.5V372.7M200.73 261.5V372.7M210.45 261.5V372.7M220.19 261.5V372.7M229.57 261.5V372.7M238.21 261.5V372.7M246.08 261.5V372.7M253.74 261.5V372.7M261.85 261.5V372.7M269.88 261.5V372.7M277 261.5V372.7M283.66 261.5V372.7M290.05 261.5V372.7M295.84 261.5V372.7M301.38 261.5V372.7M306.84 261.5V372.7M312.67 261.5V372.7M28.56 261.5V372.7M20.08 261.5V372.7M324.31 261.5V372.7" stroke="#eeeeee" stroke-width="0.35" fill="none"/>
<path d="M13.4 367.9H333.1M13.4 342.5H333.1M13.4 317.1H333.1M13.4 291.7H333.1M13.4 266.3H333.1M37.03 261.5V372.7M53.98 261.5V372.7M68.95 261.5V372.7M82.9 261.5V372.7M97.04 261.5V372.7M111.14 261.5V372.7M124.4 261.5V372.7M137.67 261.5V372.7M150.5 261.5V372.7M162.51 261.5V372.7M174.65 261.5V372.7M185.93 261.5V372.7M195.89 261.5V372.7M205.56 261.5V372.7M215.33 261.5V372.7M225.05 261.5V372.7M234.09 261.5V372.7M242.33 261.5V372.7M249.84 261.5V372.7M257.64 261.5V372.7M266.07 261.5V372.7M273.7 261.5V372.7M280.31 261.5V372.7M287.01 261.5V372.7M293.09 261.5V372.7M298.58 261.5V372.7M304.17 261.5V372.7M309.52 261.5V372.7M315.83 261.5V372.7" stroke="#e8e8e8" stroke-width="0.4" fill="none"/>
<path d="M39.94 332.34h0M94.77 332.34h0M122.48 332.34h0M127.93 332.34h0M130.26 332.34h0M148.96 332.34h0M151.6 332.34h0M194.13 332.34h0M197.87 332.34h0M237.71 332.34h0M267.08 332.34h1.54M291.14 332.34h0M317.43 332.34h0M31.14 337.42h0.77M39.47 337.42h0M69.53 337.42h0M94.77 337.42h0M98.66 337.42h0M122.48 337.42h0M127.93 337.42h0M130.26 337.42h0M148.96 337.42h0M151.6 337.42h0M194.13 337.42h0M197.87 337.42h0M212.01 337.42h0M249.94 337.42h0.14M265.52 337.42h1.23M281.88 337.42h0.45M291.14 337.42h0M31.14 342.5h0.77M39.24 342.5h1.23M43.92 342.5h0.45M69.62 342.5h0.14M94.77 342.5h0M98.66 342.5h0M122.48 342.5h0M125.59 342.5h0M127.93 342.5h0M130.26 342.5h0M148.96 342.5h0M151.6 342.5h0M194.13 342.5h0M197.33 342.5h1.23M212.01 342.5h0M217.23 342.5h1.23M237.48 342.5h0M249.94 342.5h0.14M265.52 342.5h3.1M281.1 342.5h1.27M291.14 342.5h0M304.19 342.5h0M317.43 342.5h0M32.46 347.58h0M35.35 347.58h9.02M65.17 347.58h0M68.84 347.58h2.01M94.77 347.58h0M98.66 347.58h0M122.48 347.58h0M125.59 347.58h0M128.48 347.58h1.23M151.07 347.58h1.54M168.74 347.58h0M170.76 347.58h0M177.31 347.58h0M194.21 347.58h5.13M211.78 347.58h6.68M237.48 347.58h0M247.61 347.58h4.35M265.52 347.58h3.57M278.76 347.58h3.61M291.14 347.58h0M303.96 347.58h0.45M312.44 347.58h1.33M317.43 347.58h0M30.68 352.66h8.24M42.36 352.66h2.65M62.61 352.66h9.02M74.83 352.66h0M91.89 352.66h3.1M98.66 352.66h0M118.67 352.66h0.45M123.02 352.66h0M126.14 352.66h0.77M145.15 352.66h10.58M168.68 352.66h1.84M177.08 352.66h0.45M190.86 352.66h0M193.43 352.66h5.91M211 352.66h8.19M235.15 352.66h2.12M247.61 352.66h4.35M263.18 352.66h5.91M277.2 352.66h5.16M291.14 352.66h0M303.18 352.66h2.01M313.31 352.66h1.23M317.43 352.66h0M28.03 357.74h16.98M62.92 357.74h9.49M74.83 357.74h0M92.2 357.74h6.68M101.46 357.74h0M118.14 357.74h9.55M130.11 357.74h0M144.67 357.74h10.75M168.68 357.74h10.41M190.86 357.74h0M192.19 357.74h7.15M210.57 357.74h8.62M233.59 357.74h3.68M247.3 357.74h4.99M262.09 357.74h2.33M267.08 357.74h1.23M277.35 357.74h5.02M291.14 357.74h0M294.84 357.74h0M302.87 357.74h2.32M312.84 357.74h5.13M28.03 362.82h16.34M62.61 362.82h12.14M90.18 362.82h13.06M118.67 362.82h10.89M144.67 362.82h10.27M168.68 362.82h11.19M191.88 362.82h7.78M210.57 362.82h4M218.71 362.82h0M230.01 362.82h7.25M246.83 362.82h5.46M262.09 362.82h7M277.35 362.82h2.64M290.76 362.82h0.91M294.53 362.82h0M302.41 362.82h3.57M313.62 362.82h4.35M28.03 367.9h5.44M36.13 367.9h3.88M43.14 367.9h1.23M62.06 367.9h1.32M70.08 367.9h4.86M89.95 367.9h12.83M117.89 367.9h3.57M125.68 367.9h4.04M145.15 367.9h7.46M155.26 367.9h0M168.51 367.9h6.37M178.64 367.9h1.23M192.65 367.9h6.68M210.57 367.9h0.88M230.01 367.9h7.25M246.28 367.9h0M249.17 367.9h3.12M263.18 367.9h5.91M277.35 367.9h2.64M290.76 367.9h3.76M302.32 367.9h0M312.76 367.9h0M314.87 367.9h3.1M127.93 317.1h0M127.93 322.18h0M194.13 322.18h0M317.43 322.18h0M148.96 327.26h0M194.13 327.26h0M237.71 327.26h0M267.08 327.26h1.54M291.14 327.26h0M317.43 327.26h0M143.97 347.58h0" stroke="#ff0000" stroke-width="1.84" stroke-linecap="round" fill="none"/>
<path d="M53.02 332.34h0M81.53 332.34h0M89.31 332.34h0M116.26 332.34h0M159.94 332.34h2.79M166.4 332.34h0M187.12 332.34h0M201.92 332.34h0M207.21 332.34h0M241.38 332.34h2.79M285.53 332.34h0M49.37 337.42h0.45M53.18 337.42h0M81.53 337.42h0M89.31 337.42h0M111.9 337.42h0M115.33 337.42h0M136.03 337.42h0M157.92 337.42h4.82M166.4 337.42h0M187.12 337.42h0M201.92 337.42h0M205.89 337.42h1.23M228.36 337.42h0M241.38 337.42h2.79M254.84 337.42h0M271.98 337.42h0M285.53 337.42h0M296.87 337.42h0M300.3 337.42h0M49.37 342.5h0.45M53.18 342.5h0M81.53 342.5h0M85.11 342.5h0M89.31 342.5h0M111.9 342.5h0M114.79 342.5h2.11M136.03 342.5h0M138.68 342.5h0M157.92 342.5h4.82M166.4 342.5h0M184.56 342.5h0.45M187.12 342.5h0M201.92 342.5h0M205.89 342.5h1.23M228.36 342.5h0M241.38 342.5h4.35M260.76 342.5h0M271.98 342.5h0M283.47 342.5h0M284.99 342.5h1.23M289.89 342.5h0M296.87 342.5h0M300.3 342.5h0M310.89 342.5h0M49.37 347.58h0.45M53.18 347.58h0M81.53 347.58h0M85.65 347.58h0M89.31 347.58h0M107 347.58h9.9M134.24 347.58h5.13M157.92 347.58h4.82M166.18 347.58h0.45M181.2 347.58h0M184 347.58h0M187.12 347.58h0M202 347.58h5.13M224.47 347.58h0M228.36 347.58h0M241.38 347.58h4.35M254.84 347.58h0M260.07 347.58h0.45M272.76 347.58h0M283.47 347.58h0M284.99 347.58h2.01M289.89 347.58h0M300.3 347.58h0M309.41 347.58h1.92M46.12 352.66h6.82M58.16 352.66h0M60.5 352.66h0M79.43 352.66h0.77M85.19 352.66h0.45M89.31 352.66h0M105.44 352.66h1.23M109.34 352.66h7.56M131.13 352.66h8.24M143.82 352.66h0M157.61 352.66h5.13M166.18 352.66h1.4M181.2 352.66h0M184.87 352.66h2.01M202.78 352.66h1.23M206.67 352.66h0.45M209 352.66h0.12M220.29 352.66h0M224.24 352.66h0M228.36 352.66h0M238.37 352.66h0M239.27 352.66h0M242.16 352.66h3.57M254.84 352.66h0M257.73 352.66h3.57M273.31 352.66h0.45M283.47 352.66h1.97M296.95 352.66h1.23M309.64 352.66h0M46.12 357.74h6.04M55.13 357.74h5.13M77.87 357.74h3.88M84.73 357.74h1.39M89.31 357.74h0M103.89 357.74h2.79M109.65 357.74h7.39M131.6 357.74h11.97M156.53 357.74h11.05M180.66 357.74h7M201.22 357.74h8.25M220.29 357.74h0M221.91 357.74h7.46M238.37 357.74h3.46M253.39 357.74h7.6M272.53 357.74h3.71M283.47 357.74h6.65M296.95 357.74h3.26M307.86 357.74h2.32M46.25 362.82h2.01M50.69 362.82h0M53.26 362.82h3.57M60.27 362.82h0.45M78.88 362.82h0M81.61 362.82h3.26M88.54 362.82h0M104.34 362.82h9.35M117.17 362.82h0M131.13 362.82h11.36M144.06 362.82h0M156.83 362.82h10.75M181.98 362.82h0M185.65 362.82h4.35M200.76 362.82h8.71M220.35 362.82h8.56M238.37 362.82h4.24M253.39 362.82h7.6M270.97 362.82h5.27M286.08 362.82h3.58M296.95 362.82h3.26M308.64 362.82h1.23M51.7 367.9h0.45M56.07 367.9h4.89M76.05 367.9h12.8M104.66 367.9h4.35M116.35 367.9h0.55M134.94 367.9h0M138.92 367.9h4.35M160.72 367.9h2.32M166.4 367.9h0M181.75 367.9h1.23M185.65 367.9h4.35M201.22 367.9h5.13M209 367.9h0.47M221.6 367.9h7.31M238.37 367.9h0M242.85 367.9h0M253.39 367.9h0M254.84 367.9h0M259.29 367.9h0.45M270.97 367.9h5.27M286.55 367.9h3.11M295.62 367.9h0M297.49 367.9h0M299.83 367.9h0M306.3 367.9h1.23M310.42 367.9h0M161.73 317.1h0M161.73 322.18h0M187.12 322.18h0M161.73 327.26h0M166.4 327.26h0M187.12 327.26h0M207.21 327.26h0M242.94 327.26h1.23" stroke="#0000ff" stroke-width="1.84" stroke-linecap="round" fill="none"/>
<rect x="13.4" y="261.5" width="319.7" height="111.2" fill="none" stroke="#c2c2c2" stroke-width="0.75"/>
<path d="M12.3 367.9H13.4M12.3 342.5H13.4M12.3 317.1H13.4M12.3 291.7H13.4M12.3 266.3H13.4M37.03 372.7V373.8M53.98 372.7V373.8M68.95 372.7V373.8M82.9 372.7V373.8M97.04 372.7V373.8M111.14 372.7V373.8M124.4 372.7V373.8M137.67 372.7V373.8M150.5 372.7V373.8M162.51 372.7V373.8M174.65 372.7V373.8M185.93 372.7V373.8M195.89 372.7V373.8M205.56 372.7V373.8M215.33 372.7V373.8M225.05 372.7V373.8M234.09 372.7V373.8M242.33 372.7V373.8M249.84 372.7V373.8M257.64 372.7V373.8M266.07 372.7V373.8M273.7 372.7V373.8M280.31 372.7V373.8M287.01 372.7V373.8M293.09 372.7V373.8M298.58 372.7V373.8M304.17 372.7V373.8M309.52 372.7V373.8M315.83 372.7V373.8" stroke="#333" stroke-width="0.5" fill="none"/>
<g font-size="2.85" stroke="#4d4d4d" stroke-width="0.04" fill="#4d4d4d"><text transform="translate(11.8 368.92) rotate(0.05)" text-anchor="end">0</text><text transform="translate(11.8 343.52) rotate(0.05)" text-anchor="end">25</text><text transform="translate(11.8 318.12) rotate(0.05)" text-anchor="end">50</text><text transform="translate(11.8 292.72) rotate(0.05)" text-anchor="end">75</text><text transform="translate(11.8 267.32) rotate(0.05)" text-anchor="end">100</text><text transform="translate(37.03 376.9) rotate(0.05)" text-anchor="middle">1</text><text transform="translate(53.98 376.9) rotate(0.05)" text-anchor="middle">2</text><text transform="translate(68.95 376.9) rotate(0.05)" text-anchor="middle">3</text><text transform="translate(82.9 376.9) rotate(0.05)" text-anchor="middle">4</text><text transform="translate(97.04 376.9) rotate(0.05)" text-anchor="middle">5</text><text transform="translate(111.14 376.9) rotate(0.05)" text-anchor="middle">6</text><text transform="translate(124.4 376.9) rotate(0.05)" text-anchor="middle">7</text><text transform="translate(137.67 376.9) rotate(0.05)" text-anchor="middle">8</text><text transform="translate(150.5 376.9) rotate(0.05)" text-anchor="middle">9</text><text transform="translate(162.51 376.9) rotate(0.05)" text-anchor="middle">10</text><text transform="translate(174.65 376.9) rotate(0.05)" text-anchor="middle">11</text><text transform="translate(185.93 376.9) rotate(0.05)" text-anchor="middle">12</text><text transform="translate(195.89 376.9) rotate(0.05)" text-anchor="middle">13</text><text transform="translate(205.56 376.9) rotate(0.05)" text-anchor="middle">14</text><text transform="translate(215.33 376.9) rotate(0.05)" text-anchor="middle">15</text><text transform="translate(225.05 376.9) rotate(0.05)" text-anchor="middle">16</text><text transform="translate(234.09 376.9) rotate(0.05)" text-anchor="middle">17</text><text transform="translate(242.33 376.9) rotate(0.05)" text-anchor="middle">18</text><text transform="translate(249.84 376.9) rotate(0.05)" text-anchor="middle">19</text><text transform="translate(257.64 376.9) rotate(0.05)" text-anchor="middle">20</text><text transform="translate(266.07 376.9) rotate(0.05)" text-anchor="middle">21</text><text transform="translate(273.7 376.9) rotate(0.05)" text-anchor="middle">22</text><text transform="translate(280.31 376.9) rotate(0.05)" text-anchor="middle">23</text><text transform="translate(287.01 376.9) rotate(0.05)" text-anchor="middle">24</text><text transform="translate(293.09 376.9) rotate(0.05)" text-anchor="middle">25</text><text transform="translate(298.58 376.9) rotate(0.05)" text-anchor="middle">26</text><text transform="translate(304.17 376.9) rotate(0.05)" text-anchor="middle">27</text><text transform="translate(309.52 376.9) rotate(0.05)" text-anchor="middle">28</text><text transform="translate(315.83 376.9) rotate(0.05)" text-anchor="middle">29</text></g>
<text transform="translate(173.25 258.6) rotate(0.05)" text-anchor="middle" font-size="4.25" fill="#000" stroke="#000" stroke-width="0.06" xml:space="preserve">Manhattan Plot - % SNP in Runs for  THAR</text>
<text transform="translate(173.25 381.9) rotate(0.05)" text-anchor="middle" font-size="3.47" fill="#000" stroke="#000" stroke-width="0.07">Chromosome</text>
<text transform="translate(4.6 317.1) rotate(-89.95)" text-anchor="middle" font-size="3.47" fill="#000" stroke="#000" stroke-width="0.07">% SNP in Runs</text>
</g>
<g id="panel-NEL">
<rect x="353" y="269.4" width="329.9" height="103.9" fill="#fff"/>
<path d="M353 356.73H682.9M353 332.99H682.9M353 309.26H682.9M353 285.52H682.9M386.8 269.4V373.3M403.17 269.4V373.3M418.17 269.4V373.3M432.6 269.4V373.3M446.87 269.4V373.3M460.92 269.4V373.3M474.7 269.4V373.3M488.1 269.4V373.3M500.97 269.4V373.3M513.62 269.4V373.3M525.85 269.4V373.3M536.92 269.4V373.3M547 269.4V373.3M557.05 269.4V373.3M567.32 269.4V373.3M577.17 269.4V373.3M586.17 269.4V373.3M594.12 269.4V373.3M601.62 269.4V373.3M609.75 269.4V373.3M617.97 269.4V373.3M625.27 269.4V373.3M632.07 269.4V373.3M638.62 269.4V373.3M644.57 269.4V373.3M650.27 269.4V373.3M655.9 269.4V373.3M661.9 269.4V373.3M369.5 269.4V373.3M360.85 269.4V373.3M673.8 269.4V373.3" stroke="#eeeeee" stroke-width="0.35" fill="none"/>
<path d="M353 368.6H682.9M353 344.86H682.9M353 321.12H682.9M353 297.39H682.9M353 273.65H682.9M378.15 269.4V373.3M395.45 269.4V373.3M410.9 269.4V373.3M425.45 269.4V373.3M439.75 269.4V373.3M454 269.4V373.3M467.85 269.4V373.3M481.55 269.4V373.3M494.65 269.4V373.3M507.3 269.4V373.3M519.95 269.4V373.3M531.75 269.4V373.3M542.1 269.4V373.3M551.9 269.4V373.3M562.2 269.4V373.3M572.45 269.4V373.3M581.9 269.4V373.3M590.45 269.4V373.3M597.8 269.4V373.3M605.45 269.4V373.3M614.05 269.4V373.3M621.9 269.4V373.3M628.65 269.4V373.3M635.5 269.4V373.3M641.75 269.4V373.3M647.4 269.4V373.3M653.15 269.4V373.3M658.65 269.4V373.3M665.15 269.4V373.3" stroke="#e8e8e8" stroke-width="0.4" fill="none"/>
<path d="M377.91 292.64h0M445.67 292.64h0M598.29 292.64h0M377.91 297.39h0M445.67 297.39h0M598.29 297.39h0M377.91 302.13h0M598.29 302.13h0M377.91 306.88h0M445.67 306.88h0M464.12 306.88h1.54M377.91 311.63h0M414.52 311.63h0M463.57 311.63h0M542.69 311.63h0M598.29 311.63h0M414.52 316.38h0M445.36 316.38h0M464.12 316.38h1.54M543.01 316.38h0M598.29 316.38h0M667.24 316.38h0M373.24 321.12h0M376.9 321.12h0M414.52 321.12h0M445.36 321.12h0M466.21 321.12h0M518.55 321.12h0M542.78 321.12h0.45M598.06 321.12h0.45M627.88 321.12h0M667.24 321.12h0M373.24 325.87h0M376.9 325.87h0M414.52 325.87h0M435.23 325.87h0M445.36 325.87h0M464.12 325.87h1.23M518.86 325.87h0M542.69 325.87h0M597.28 325.87h2.01M612.77 325.87h0M373.24 330.62h0M376.9 330.62h0M415.07 330.62h1.23M435.23 330.62h0M437.88 330.62h0M466.46 330.62h1.7M518.55 330.62h0M542.78 330.62h1.23M597.28 330.62h2.01M612.77 330.62h0M627.88 330.62h0M667.24 330.62h0M373.24 335.37h0M415.07 335.37h1.23M435.23 335.37h0M438.35 335.37h0M463.57 335.37h0M467.23 335.37h0.45M471.04 335.37h0M542.78 335.37h1.23M597.28 335.37h2.79M612.77 335.37h0M627.88 335.37h0M667.24 335.37h0M373.24 340.12h0M376.91 340.12h1.23M412.73 340.12h3.57M435.23 340.12h0M445.36 340.12h0M463.57 340.12h0M467.23 340.12h6.68M519.1 340.12h1.54M542 340.12h2.01M560.59 340.12h0M580.84 340.12h0M597.28 340.12h2.79M612.77 340.12h0M627.88 340.12h0M667.24 340.12h0M373.24 344.86h0M376.91 344.86h1.23M385.7 344.86h0M412.18 344.86h0M416.54 344.86h0M437.65 344.86h2.79M445.36 344.86h0M463.57 344.86h0M467.23 344.86h6.68M491.6 344.86h0M519.1 344.86h1.54M541.22 344.86h5.13M560.59 344.86h0M564.8 344.86h0M580.84 344.86h0M597.28 344.86h2.77M609.95 344.86h0M612.77 344.86h0M625.65 344.86h0.9M664.21 344.86h3.57M368.34 349.61h1.23M373.24 349.61h0M376.91 349.61h5.13M385.7 349.61h0M412.73 349.61h3.57M432.12 349.61h0M435.32 349.61h5.13M444.66 349.61h1.23M463.34 349.61h10.31M491.6 349.61h0M499.39 349.61h0M518.64 349.61h5.91M537.45 349.61h0M540.44 349.61h5.91M560.68 349.61h0.45M564.8 349.61h0M580.84 349.61h0M584.04 349.61h1.23M597.28 349.61h2.77M609.95 349.61h3.36M625.65 349.61h0.12M664.21 349.61h3.57M367.8 354.36h2.55M373.01 354.36h2.79M379.24 354.36h6.68M403.55 354.36h0M406.5 354.36h2.79M411.95 354.36h5.39M432.12 354.36h0M436.41 354.36h0.45M440.22 354.36h0M444.66 354.36h1.23M461 354.36h12.64M489.82 354.36h9.02M518.64 354.36h6.68M537.45 354.36h1.11M540.44 354.36h5.4M559.12 354.36h2.01M564.57 354.36h1.23M580.93 354.36h4.35M594.65 354.36h0M597.28 354.36h2.77M610.52 354.36h6.73M625.65 354.36h3.24M639.35 354.36h0M650.65 354.36h0M654.87 354.36h0M664.21 354.36h3.57M368.34 359.11h18.37M403.55 359.11h5.74M412.73 359.11h4.62M432.98 359.11h3.57M440.77 359.11h5.18M461 359.11h12.64M489.82 359.11h1.23M493.71 359.11h5.13M516.3 359.11h8.85M537.33 359.11h8.52M557.56 359.11h8.24M577.26 359.11h0M581.7 359.11h2.79M594.65 359.11h0M596.5 359.11h3.54M610.52 359.11h6.73M625.65 359.11h3.24M630 359.11h0.75M639.35 359.11h0M642.41 359.11h0.84M650.65 359.11h0M654.87 359.11h0M664.99 359.11h2.79M368.65 363.85h17.8M403.39 363.85h2.79M409.62 363.85h7.73M432.65 363.85h3.9M439.99 363.85h5.96M461 363.85h4.35M468.01 363.85h5.13M488.55 363.85h11.07M513.85 363.85h9.13M537.45 363.85h8.12M556.78 363.85h9.66M577.55 363.85h6.94M594.94 363.85h5.1M609.95 363.85h7.3M625.65 363.85h3.24M630 363.85h1.18M640.85 363.85h2.4M654.87 363.85h0M661.65 363.85h6.13M370.68 368.6h15.77M404.17 368.6h2.79M409.62 368.6h7.73M432.65 368.6h3.9M442.33 368.6h2.01M461 368.6h4.35M468.01 368.6h5.13M488.26 368.6h5.13M498.39 368.6h2.01M513.85 368.6h10.69M537.45 368.6h2.67M544.34 368.6h0.45M561.46 368.6h4.35M577.55 368.6h0.71M582.71 368.6h0M594.17 368.6h2.79M599.84 368.6h0M609.97 368.6h0M613.86 368.6h0M617.53 368.6h0M626.1 368.6h2.79M640.3 368.6h0M650.65 368.6h4.1M661.65 368.6h0M664.99 368.6h2.79M418.88 340.12h0M585.36 325.87h0M587.07 325.87h0M585.36 330.62h0M587.07 330.62h0M585.36 335.37h0M587.07 335.37h0M585.36 340.12h0M587.07 340.12h0M585.36 344.86h0M587.07 344.86h0M587.07 349.61h0M643.88 330.62h0M643.88 335.37h0M643.88 340.12h0M642.94 344.86h0M644.03 344.86h0M642.94 349.61h0M644.35 349.61h0" stroke="#ff0000" stroke-width="1.84" stroke-linecap="round" fill="none"/>
<path d="M587.38 292.64h0M423.08 302.13h0M529.3 302.13h0M587.38 302.13h0M423.08 306.88h0M529.3 306.88h0M587.07 306.88h0M602.49 306.88h0M423.08 311.63h0M481.79 311.63h0M529.3 311.63h0M592.06 311.63h0M602.49 311.63h0M422.86 316.38h1.7M481.48 316.38h0M528.99 316.38h0M549.79 316.38h2.77M587.07 316.38h0M592.06 316.38h0M602.49 316.38h0M636.4 316.38h0M401.74 321.12h0M423.86 321.12h0M482.03 321.12h0.45M529.3 321.12h0M549.79 321.12h2.21M592.06 321.12h0M602.49 321.12h0M636.4 321.12h0M655.87 321.12h0M401.74 325.87h0M423.64 325.87h1.23M428.07 325.87h0M482.03 325.87h2.01M528.76 325.87h1.23M549.79 325.87h2.77M592.06 325.87h0M602.49 325.87h0M636.4 325.87h0M655.87 325.87h0M400.27 330.62h1.54M423.64 330.62h1.23M428.07 330.62h0M481.25 330.62h3.57M528.76 330.62h1.23M549.79 330.62h3.55M573.36 330.62h0M592.06 330.62h0M602.49 330.62h0M624.3 330.62h0M636.4 330.62h0M647.31 330.62h0M655.87 330.62h0M393.02 335.37h0M395.51 335.37h0M399.49 335.37h2.79M423.64 335.37h4.35M481.25 335.37h3.57M528.76 335.37h2.79M549.79 335.37h3.55M573.36 335.37h0M592.06 335.37h0M602.49 335.37h0M606.07 335.37h0M608.88 335.37h0M618.07 335.37h0M624.3 335.37h0M636.4 335.37h0M647.31 335.37h0M655.87 335.37h0M393.26 340.12h9.02M422.86 340.12h5.13M481.25 340.12h3.57M506.87 340.12h0M510.76 340.12h0M527.98 340.12h4.35M536.46 340.12h0M549.79 340.12h3.55M571.58 340.12h2.01M591.83 340.12h0.45M603.04 340.12h5.59M618.07 340.12h0M624.3 340.12h0M636.4 340.12h0M647.08 340.12h1.23M655.87 340.12h0M659.45 340.12h0M390.93 344.86h11.36M418.41 344.86h0M422.08 344.86h5.91M451.59 344.86h0M477.36 344.86h7.46M506.95 344.86h3.57M527.98 344.86h5.91M536.46 344.86h0M549.79 344.86h5.89M567.69 344.86h5.91M590.27 344.86h2.79M601.15 344.86h0M603.04 344.86h5.8M618.07 344.86h0M624.85 344.86h0M635.4 344.86h1.23M647.08 344.86h1.23M655.87 344.86h0M659.45 344.86h0M388.59 349.61h13.69M419.43 349.61h3.88M426.75 349.61h1.23M451.59 349.61h0M454.7 349.61h0M474.75 349.61h10.07M504.62 349.61h5.91M527.98 349.61h8.37M549.79 349.61h5.89M571.58 349.61h2.79M589.49 349.61h3.57M601.15 349.61h0M602.49 349.61h0M605.85 349.61h3M618.07 349.61h0M623.76 349.61h0.79M635.4 349.61h1.23M647.08 349.61h2.01M655.87 349.61h0M659.45 349.61h0M388.82 354.36h0M392.48 354.36h9.96M418.45 354.36h4.86M426.75 354.36h1.23M449.34 354.36h5.13M459.36 354.36h0M474.75 354.36h3.84M482.03 354.36h2.01M503.06 354.36h7.46M528.76 354.36h7.59M546.95 354.36h8.73M567.69 354.36h0.45M572.36 354.36h2.79M587.94 354.36h5.61M601.15 354.36h6.71M618.35 354.36h0M622.98 354.36h1.56M631.73 354.36h0M634.62 354.36h3.63M643.96 354.36h0.45M647.08 354.36h2.47M655.85 354.36h0.25M659.45 354.36h0M388.59 359.11h13.86M418.45 359.11h4.86M425.97 359.11h5.13M447.05 359.11h7.41M458.89 359.11h0M474.75 359.11h9.29M501.5 359.11h9.02M526.25 359.11h9.19M546.95 359.11h1.73M555.22 359.11h0.45M569.24 359.11h5.91M586.38 359.11h7.17M601.15 359.11h6.71M618.35 359.11h0.41M621.42 359.11h3.12M631.85 359.11h0.11M633.84 359.11h4.41M644.35 359.11h0.07M646.3 359.11h3.25M655.85 359.11h0.25M659.45 359.11h0M387.55 363.85h13.95M418.45 363.85h4.08M426.75 363.85h4.8M447.05 363.85h12.07M475.02 363.85h12.43M501.5 363.85h0.45M505.08 363.85h7.66M526.42 363.85h0.45M529.54 363.85h6.81M547.45 363.85h3.57M555.45 363.85h0M567.55 363.85h8.9M586.38 363.85h5.13M601.15 363.85h7.7M618.35 363.85h6.2M633.06 363.85h4.35M644.35 363.85h0.07M647.08 363.85h2.79M655.85 363.85h0.25M658.76 363.85h1.79M387.55 368.6h5.39M396.07 368.6h1.54M401.83 368.6h0.45M418.45 368.6h3.3M426.75 368.6h4.8M447 368.6h2.01M454.01 368.6h5.11M475.02 368.6h5.13M483.59 368.6h0.45M486.15 368.6h0M503.29 368.6h0M505.62 368.6h0M509.29 368.6h3.46M526.42 368.6h1.23M530.55 368.6h0M534.99 368.6h1.36M547.45 368.6h3.57M556.23 368.6h0M567.69 368.6h2.01M576.25 368.6h0.19M586.6 368.6h0M601.95 368.6h5.91M618.35 368.6h3.53M632.28 368.6h5.91M644.74 368.6h4.8M655.85 368.6h4.7M587.07 278.4h0M587.07 283.14h0M587.07 287.89h0M567.13 330.62h0M567.13 335.37h0M567.13 340.12h0M567.13 349.61h0" stroke="#0000ff" stroke-width="1.84" stroke-linecap="round" fill="none"/>
<rect x="353" y="269.4" width="329.9" height="103.9" fill="none" stroke="#c2c2c2" stroke-width="0.75"/>
<path d="M351.9 368.6H353M351.9 344.86H353M351.9 321.12H353M351.9 297.39H353M351.9 273.65H353M378.15 373.3V374.4M395.45 373.3V374.4M410.9 373.3V374.4M425.45 373.3V374.4M439.75 373.3V374.4M454 373.3V374.4M467.85 373.3V374.4M481.55 373.3V374.4M494.65 373.3V374.4M507.3 373.3V374.4M519.95 373.3V374.4M531.75 373.3V374.4M542.1 373.3V374.4M551.9 373.3V374.4M562.2 373.3V374.4M572.45 373.3V374.4M581.9 373.3V374.4M590.45 373.3V374.4M597.8 373.3V374.4M605.45 373.3V374.4M614.05 373.3V374.4M621.9 373.3V374.4M628.65 373.3V374.4M635.5 373.3V374.4M641.75 373.3V374.4M647.4 373.3V374.4M653.15 373.3V374.4M658.65 373.3V374.4M665.15 373.3V374.4" stroke="#333" stroke-width="0.5" fill="none"/>
<g font-size="2.94" stroke="#4d4d4d" stroke-width="0.04" fill="#4d4d4d"><text transform="translate(351.4 369.62) rotate(0.05)" text-anchor="end">0</text><text transform="translate(351.4 345.88) rotate(0.05)" text-anchor="end">25</text><text transform="translate(351.4 322.14) rotate(0.05)" text-anchor="end">50</text><text transform="translate(351.4 298.41) rotate(0.05)" text-anchor="end">75</text><text transform="translate(351.4 274.67) rotate(0.05)" text-anchor="end">100</text><text transform="translate(378.15 377.4) rotate(0.05)" text-anchor="middle">1</text><text transform="translate(395.45 377.4) rotate(0.05)" text-anchor="middle">2</text><text transform="translate(410.9 377.4) rotate(0.05)" text-anchor="middle">3</text><text transform="translate(425.45 377.4) rotate(0.05)" text-anchor="middle">4</text><text transform="translate(439.75 377.4) rotate(0.05)" text-anchor="middle">5</text><text transform="translate(454 377.4) rotate(0.05)" text-anchor="middle">6</text><text transform="translate(467.85 377.4) rotate(0.05)" text-anchor="middle">7</text><text transform="translate(481.55 377.4) rotate(0.05)" text-anchor="middle">8</text><text transform="translate(494.65 377.4) rotate(0.05)" text-anchor="middle">9</text><text transform="translate(507.3 377.4) rotate(0.05)" text-anchor="middle">10</text><text transform="translate(519.95 377.4) rotate(0.05)" text-anchor="middle">11</text><text transform="translate(531.75 377.4) rotate(0.05)" text-anchor="middle">12</text><text transform="translate(542.1 377.4) rotate(0.05)" text-anchor="middle">13</text><text transform="translate(551.9 377.4) rotate(0.05)" text-anchor="middle">14</text><text transform="translate(562.2 377.4) rotate(0.05)" text-anchor="middle">15</text><text transform="translate(572.45 377.4) rotate(0.05)" text-anchor="middle">16</text><text transform="translate(581.9 377.4) rotate(0.05)" text-anchor="middle">17</text><text transform="translate(590.45 377.4) rotate(0.05)" text-anchor="middle">18</text><text transform="translate(597.8 377.4) rotate(0.05)" text-anchor="middle">19</text><text transform="translate(605.45 377.4) rotate(0.05)" text-anchor="middle">20</text><text transform="translate(614.05 377.4) rotate(0.05)" text-anchor="middle">21</text><text transform="translate(621.9 377.4) rotate(0.05)" text-anchor="middle">22</text><text transform="translate(628.65 377.4) rotate(0.05)" text-anchor="middle">23</text><text transform="translate(635.5 377.4) rotate(0.05)" text-anchor="middle">24</text><text transform="translate(641.75 377.4) rotate(0.05)" text-anchor="middle">25</text><text transform="translate(647.4 377.4) rotate(0.05)" text-anchor="middle">26</text><text transform="translate(653.15 377.4) rotate(0.05)" text-anchor="middle">27</text><text transform="translate(658.65 377.4) rotate(0.05)" text-anchor="middle">28</text><text transform="translate(665.15 377.4) rotate(0.05)" text-anchor="middle">29</text></g>
<text transform="translate(517.95 266.5) rotate(0.05)" text-anchor="middle" font-size="4.39" fill="#000" stroke="#000" stroke-width="0.06" xml:space="preserve">Manhattan Plot - % SNP in Runs for  NEL</text>
<text transform="translate(517.95 381.5) rotate(0.05)" text-anchor="middle" font-size="3.58" fill="#000" stroke="#000" stroke-width="0.07">Chromosome</text>
<text transform="translate(344 321.35) rotate(-89.95)" text-anchor="middle" font-size="3.58" fill="#000" stroke="#000" stroke-width="0.07">% SNP in Runs</text>
</g>
</svg></body></html>
